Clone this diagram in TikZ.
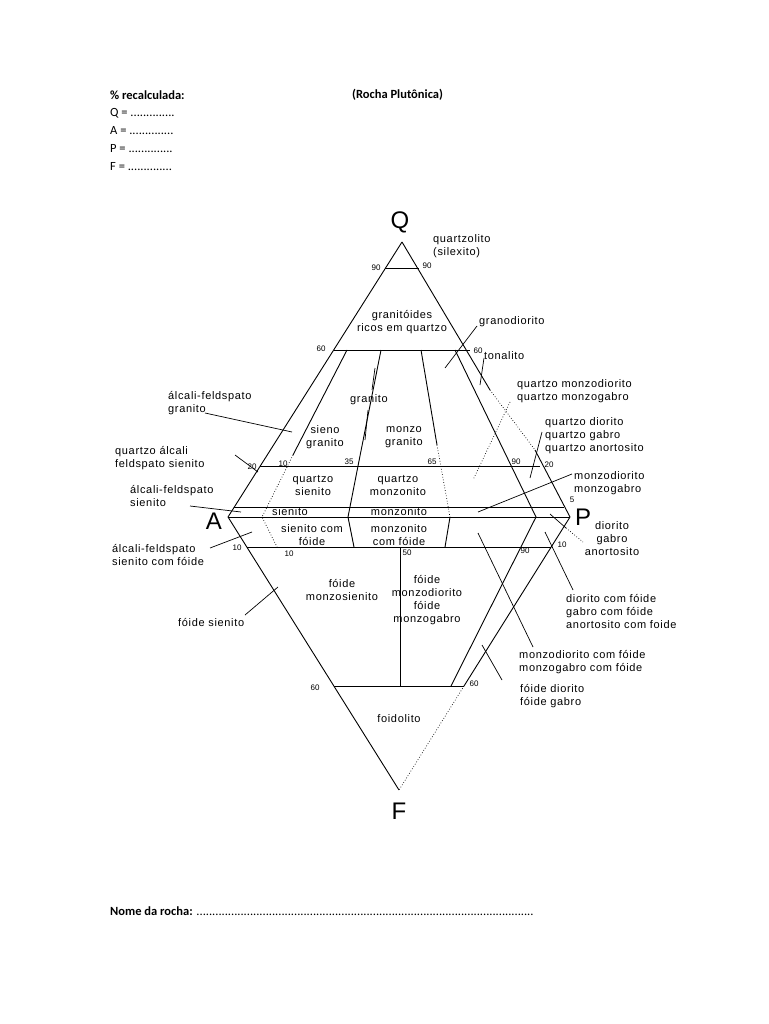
\documentclass[tikz,border=0pt]{standalone}
\usepackage{fontspec}
\setmainfont{Carlito}
\newfontfamily\arialf[LetterSpace=6]{Liberation Sans}
\newfontfamily\arialv{Liberation Sans}
\begin{document}
\begin{tikzpicture}[x=1pt,y=-1pt,
  lab/.style={font=\arialf\fontsize{11}{13}\selectfont,inner sep=0,align=center},
  labl/.style={font=\arialf\fontsize{11}{13}\selectfont,inner sep=0,align=left,anchor=west},
  num/.style={font=\arialv\fontsize{8}{9}\selectfont,inner sep=0},
  vtx/.style={font=\arialv\fontsize{24}{24}\selectfont,inner sep=0},
  hdr/.style={font=\fontsize{12.5}{14}\selectfont,inner sep=0,anchor=west},
  ln/.style={line width=0.9pt},
  ld/.style={line width=0.7pt},
  dt/.style={line width=0.7pt,dotted}]
\useasboundingbox[fill=white] (0,0) rectangle (768,1024);
% header
\node[hdr] (h1) at (110,95) {\bfseries \% recalculada:};
\node[hdr] (h2) at (352,95) {\bfseries (Rocha Plutônica)};
\node[hdr] (hq) at (110,113) {Q = ..............};
\node[hdr] (ha) at (110,131) {A = ..............};
\node[hdr] (hp) at (110,149) {P = ..............};
\node[hdr] (hf) at (110,167) {F = ..............};
\node[hdr] (nome) at (110,911) {\bfseries Nome da rocha: \mdseries ...........................................................................................................};
% vertices
\coordinate (Qv) at (402,242); \coordinate (Av) at (228,517);
\coordinate (Pv) at (570,517); \coordinate (Fv) at (399,790);
\node[vtx] (Ql) at (400,222) {Q};
\node[vtx] (Al) at (214,521) {A};
\node[vtx] (Pl) at (583,517) {P};
\node[vtx] (Fl) at (399,811) {F};
% outline
\draw[ln] (Qv) -- (Av);
\draw[ln] (Qv) -- (490,390);
\draw[dt] (490,390) -- (535,450);
\draw[ln] (535,450) -- (Pv);
\draw[ln] (Av) -- (Fv);
\draw[ln] (Pv) -- (464,686);
\draw[dt] (464,686) -- (Fv);
% horizontal lines
\draw[ln] (385,268) -- (419,268);
\draw[ln] (334,350) -- (470,350);
\draw[ln] (260,466) -- (540,466);
\draw[ln] (234,507) -- (564,507);
\draw[ln] (Av) -- (Pv);
\draw[ln] (247,547) -- (551,547);
\draw[ln] (334,686) -- (464,686);
% dividers
\draw[ln] (347,350) -- (293,455);
\draw[dt] (293,455) -- (262,517) -- (277,547);
\draw[ln] (381,350) -- (358,466) -- (348,517) -- (354,547);
\draw[ln] (421,350) -- (437,445);
\draw[dt] (437,445) -- (450,517);
\draw[ln] (450,517) -- (445,547);
\draw[ln] (455,350) -- (536,517) -- (451,686);
\draw[ln] (400,547) -- (400,686);
% region labels
\node[lab] (r1) at (402,322) {granitóides\\ricos em quartzo};
\node[lab] (r2) at (369,400) {granito};
\node[lab] (r3) at (325,437) {sieno\\granito};
\node[lab] (r4) at (404,437) {monzo\\granito};
\node[lab] (r5) at (313,485) {quartzo\\sienito};
\node[lab] (r6) at (398,485) {quartzo\\monzonito};
\node[lab] (r7) at (290,512) {sienito};
\node[lab] (r8) at (399,512) {monzonito};
\node[lab] (r9) at (312,535) {sienito com\\fóide};
\node[lab] (r10) at (399,535) {monzonito\\com fóide};
\node[lab] (r11) at (342,590) {fóide\\monzosienito};
\node[lab] (r12) at (427,600) {fóide\\monzodiorito\\fóide\\monzogabro};
\node[lab] (r13) at (399,719) {foidolito};
% granito leader
\draw[ld] (375,368) -- (372,390);
\draw[ld] (368,410) -- (365,440);
% numbers
\node[num] (n1) at (376,268) {90}; \node[num] (n2) at (427,266) {90};
\node[num] (n3) at (321,349) {60}; \node[num] (n4) at (478,351) {60};
\node[num] (n5) at (252,467) {20}; \node[num] (n6) at (283,464) {10};
\node[num] (n7) at (349,462) {35}; \node[num] (n8) at (432,462) {65};
\node[num] (n9) at (516,462) {90}; \node[num] (n10) at (549,465) {20};
\node[num] (n11) at (572,500) {5};
\node[num] (n12) at (237,548) {10}; \node[num] (n13) at (289,554) {10};
\node[num] (n14) at (407,553) {50}; \node[num] (n15) at (525,551) {90};
\node[num] (n16) at (562,545) {10};
\node[num] (n17) at (315,688) {60}; \node[num] (n18) at (474,684) {60};
% right labels
\node[labl] (t1) at (433,246) {quartzolito\\(silexito)};
\node[labl] (t2) at (479,322) {granodiorito};
\draw[ld] (477,326) -- (445,368);
\node[labl] (t3) at (484,356) {tonalito};
\draw[ld] (484,358) -- (480,385);
\node[labl] (t4) at (517,391) {quartzo monzodiorito\\quartzo monzogabro};
\draw[dt] (510,402) -- (473,480);
\node[labl] (t5) at (545,436) {quartzo diorito\\quartzo gabro\\quartzo anortosito};
\draw[ld] (542,432) -- (530,478);
\node[labl] (t6) at (574,483) {monzodiorito\\monzogabro};
\draw[ld] (572,474) -- (478,512);
\node[lab] (t7) at (612,539) {diorito\\gabro\\anortosito};
\draw[ld] (550,514) -- (566,528);
\draw[dt] (566,528) -- (583,542);
\node[labl] (t8) at (566,611) {diorito com fóide\\gabro com fóide\\anortosito com foide};
\draw[ld] (573,590) -- (545,532);
\node[labl] (t9) at (519,662) {monzodiorito com fóide\\monzogabro com fóide};
\draw[ld] (533,647) -- (478,533);
\node[labl] (t10) at (520,696) {fóide diorito\\fóide gabro};
\draw[ld] (502,680) -- (482,645);
% left labels
\node[labl] (l1) at (168,403) {álcali-feldspato\\granito};
\draw[ld] (205,413) -- (292,432);
\node[labl] (l2) at (115,458) {quartzo álcali\\feldspato sienito};
\draw[ld] (235,455) -- (258,472);
\node[labl] (l3) at (130,496) {álcali-feldspato\\sienito};
\draw[ld] (190,506) -- (241,512);
\node[labl] (l4) at (112,555) {álcali-feldspato\\sienito com fóide};
\draw[ld] (210,548) -- (252,532);
\node[labl] (l5) at (178,622) {fóide sienito};
\draw[ld] (245,615) -- (278,587);
\end{tikzpicture}
\end{document}
